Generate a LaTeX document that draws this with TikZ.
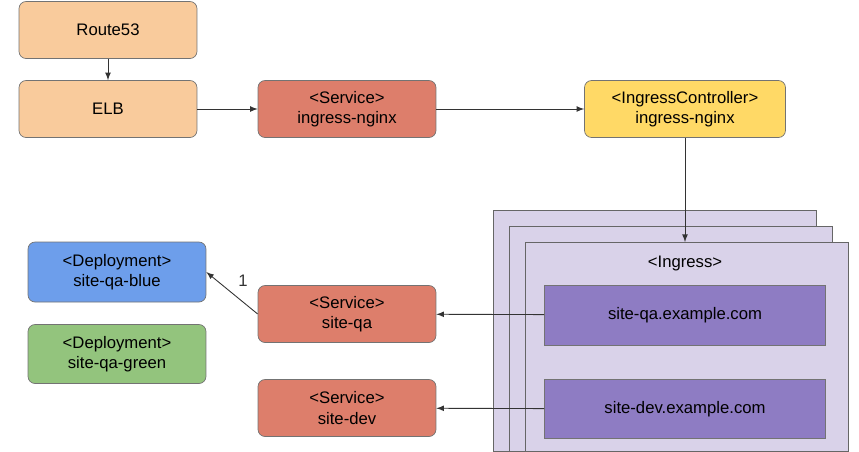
\documentclass[tikz,border=0pt]{standalone}
\usepackage{fontspec}
\setmainfont{Liberation Sans}
\usetikzlibrary{positioning}
\definecolor{peach}{HTML}{F9CB9C}
\definecolor{salmon}{HTML}{DD7E6B}
\definecolor{gold}{HTML}{FFD966}
\definecolor{lilac}{HTML}{D9D2E9}
\definecolor{violet}{HTML}{8E7CC3}
\definecolor{sky}{HTML}{6D9EEB}
\definecolor{leaf}{HTML}{93C47D}
\begin{document}
\begin{tikzpicture}[
    x=0.02cm, y=-0.02cm,
    box/.style={
        draw=black!55,
        rounded corners=4pt,
        minimum width=3.56cm,
        minimum height=1.14cm,
        font=\fontsize{9.5}{11.5}\selectfont,
        align=center,
    },
    sheet/.style={draw=black!60, fill=lilac},
    link/.style={-latex, black!80, line width=0.5pt},
]
\useasboundingbox (0,0) rectangle (859,451);

\node[box, fill=peach] (R53) at (108,30) {Route53};
\node[box, fill=peach] (ELB) at (108,109) {ELB};
\node[box, fill=salmon] (SVC) at (347,109) {<Service>\\ingress-nginx};
\node[box, fill=gold, minimum width=4.02cm] (CTL) at (685,109) {<IngressController>\\ingress-nginx};

% stacked ingress sheets
\draw[sheet] (493,210) rectangle (816,451);
\draw[sheet] (509,226) rectangle (832,451);
\draw[sheet] (525,242) rectangle (848,451);
\coordinate (ING) at (685,242);
\node[font=\fontsize{9.5}{11.5}\selectfont] (INGL) at (685,263) {<Ingress>};

\node[box, fill=violet, rounded corners=0pt, minimum width=5.62cm, minimum height=1.2cm] (HQA) at (685,315) {site-qa.example.com};
\node[box, fill=violet, rounded corners=0pt, minimum width=5.62cm, minimum height=1.18cm] (HDEV) at (685,409) {site-dev.example.com};

\node[box, fill=salmon] (SQA) at (347,314) {<Service>\\site-qa};
\node[box, fill=salmon] (SDEV) at (347,408) {<Service>\\site-dev};

\node[box, fill=sky, minimum height=1.2cm] (BLUE) at (117,272) {<Deployment>\\site-qa-blue};
\node[box, fill=leaf, minimum height=1.18cm] (GREEN) at (117,354) {<Deployment>\\site-qa-green};

\draw[link] (R53) -- (ELB);
\draw[link] (ELB) -- (SVC);
\draw[link] (SVC) -- (CTL);
\draw[link] (CTL) -- (ING);
\draw[link] (HQA) -- (SQA);
\draw[link] (HDEV) -- (SDEV);
\draw[link] (SQA.west) -- node[above right=0pt and 0pt, font=\fontsize{9.5}{11.5}\selectfont] {1} (BLUE.east);
\end{tikzpicture}
\end{document}
